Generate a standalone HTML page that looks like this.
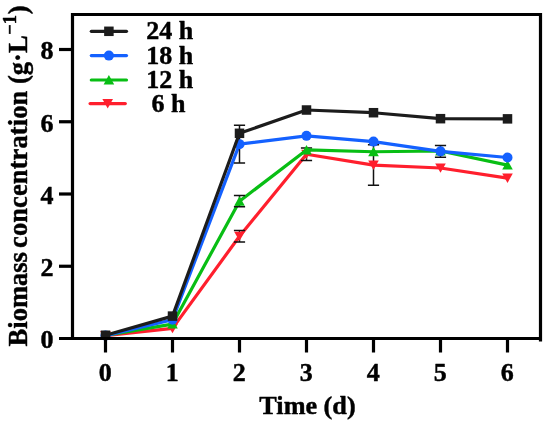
<!DOCTYPE html>
<html><head><meta charset="utf-8"><title>Biomass concentration</title>
<style>
html,body{margin:0;padding:0;background:#fff;}
svg{display:block}
text{font-family:"Liberation Serif","DejaVu Serif",serif;font-weight:bold;fill:#000;stroke:#000;stroke-width:0.45px;stroke-linejoin:round}
</style></head><body>
<svg width="550" height="428" viewBox="0 0 550 428">
<rect width="550" height="428" fill="#fff"/>

<polyline points="105.50,335.61 172.50,328.38 239.50,236.27 306.50,154.26 373.50,165.10 440.50,167.99 507.50,178.10" fill="none" stroke="#ff1f2d" stroke-width="3.2" stroke-linejoin="round" stroke-linecap="round"/>
<path d="M239.50,230.49V242.05M233.90,230.49h11.2M233.90,242.05h11.2" stroke="#111" stroke-width="1.5" fill="none"/>
<path d="M306.50,148.12V160.40M300.90,148.12h11.2M300.90,160.40h11.2" stroke="#111" stroke-width="1.5" fill="none"/>
<path d="M373.50,144.87V185.33M367.90,144.87h11.2M367.90,185.33h11.2" stroke="#111" stroke-width="1.5" fill="none"/>
<polygon points="105.50,340.41 110.80,331.11 100.20,331.11" fill="#ff1f2d"/>
<polygon points="172.50,333.19 177.80,323.88 167.20,323.88" fill="#ff1f2d"/>
<polygon points="239.50,241.07 244.80,231.77 234.20,231.77" fill="#ff1f2d"/>
<polygon points="306.50,159.06 311.80,149.76 301.20,149.76" fill="#ff1f2d"/>
<polygon points="373.50,169.90 378.80,160.60 368.20,160.60" fill="#ff1f2d"/>
<polygon points="440.50,172.79 445.80,163.49 435.20,163.49" fill="#ff1f2d"/>
<polygon points="507.50,182.91 512.80,173.60 502.20,173.60" fill="#ff1f2d"/>
<polyline points="105.50,335.43 172.50,324.05 239.50,201.22 306.50,149.93 373.50,151.73 440.50,151.01 507.50,165.10" fill="none" stroke="#08be14" stroke-width="3.2" stroke-linejoin="round" stroke-linecap="round"/>
<path d="M239.50,195.59V206.86M233.90,195.59h11.2M233.90,206.86h11.2" stroke="#111" stroke-width="1.5" fill="none"/>
<polygon points="105.50,330.53 110.80,339.93 100.20,339.93" fill="#08be14"/>
<polygon points="172.50,319.15 177.80,328.55 167.20,328.55" fill="#08be14"/>
<polygon points="239.50,196.32 244.80,205.72 234.20,205.72" fill="#08be14"/>
<polygon points="306.50,145.03 311.80,154.43 301.20,154.43" fill="#08be14"/>
<polygon points="373.50,146.83 378.80,156.23 368.20,156.23" fill="#08be14"/>
<polygon points="440.50,146.11 445.80,155.51 435.20,155.51" fill="#08be14"/>
<polygon points="507.50,160.20 512.80,169.60 502.20,169.60" fill="#08be14"/>
<polyline points="105.50,335.61 172.50,319.71 239.50,144.15 306.50,135.84 373.50,141.62 440.50,151.37 507.50,157.51" fill="none" stroke="#1461ff" stroke-width="3.2" stroke-linejoin="round" stroke-linecap="round"/>
<path d="M239.50,125.18V163.11M233.90,125.18h11.2M233.90,163.11h11.2" stroke="#111" stroke-width="1.5" fill="none"/>
<path d="M440.50,145.59V157.15M434.90,145.59h11.2M434.90,157.15h11.2" stroke="#111" stroke-width="1.5" fill="none"/>
<circle cx="105.50" cy="335.61" r="5" fill="#1461ff"/>
<circle cx="172.50" cy="319.71" r="5" fill="#1461ff"/>
<circle cx="239.50" cy="144.15" r="5" fill="#1461ff"/>
<circle cx="306.50" cy="135.84" r="5" fill="#1461ff"/>
<circle cx="373.50" cy="141.62" r="5" fill="#1461ff"/>
<circle cx="440.50" cy="151.37" r="5" fill="#1461ff"/>
<circle cx="507.50" cy="157.51" r="5" fill="#1461ff"/>
<polyline points="105.50,335.25 172.50,316.10 239.50,133.31 306.50,110.01 373.50,112.72 440.50,118.68 507.50,118.86" fill="none" stroke="#1c1c1c" stroke-width="3.2" stroke-linejoin="round" stroke-linecap="round"/>
<rect x="100.75" y="330.50" width="9.5" height="9.5" fill="#1c1c1c"/>
<rect x="167.75" y="311.35" width="9.5" height="9.5" fill="#1c1c1c"/>
<rect x="234.75" y="128.56" width="9.5" height="9.5" fill="#1c1c1c"/>
<rect x="301.75" y="105.26" width="9.5" height="9.5" fill="#1c1c1c"/>
<rect x="368.75" y="107.97" width="9.5" height="9.5" fill="#1c1c1c"/>
<rect x="435.75" y="113.93" width="9.5" height="9.5" fill="#1c1c1c"/>
<rect x="502.75" y="114.11" width="9.5" height="9.5" fill="#1c1c1c"/>
<path d="M72.5,340V14.5H540.5V341.5" fill="none" stroke="#000" stroke-width="3.2"/>
<path d="M59,338.5H540.5" fill="none" stroke="#000" stroke-width="3.2"/>
<path d="M59,266.25H72.5" stroke="#000" stroke-width="3.2"/>
<path d="M59,194.00H72.5" stroke="#000" stroke-width="3.2"/>
<path d="M59,121.75H72.5" stroke="#000" stroke-width="3.2"/>
<path d="M59,49.50H72.5" stroke="#000" stroke-width="3.2"/>
<path d="M105.50,338.5V352.5" stroke="#000" stroke-width="3.2"/>
<path d="M172.50,338.5V352.5" stroke="#000" stroke-width="3.2"/>
<path d="M239.50,338.5V352.5" stroke="#000" stroke-width="3.2"/>
<path d="M306.50,338.5V352.5" stroke="#000" stroke-width="3.2"/>
<path d="M373.50,338.5V352.5" stroke="#000" stroke-width="3.2"/>
<path d="M440.50,338.5V352.5" stroke="#000" stroke-width="3.2"/>
<path d="M507.50,338.5V352.5" stroke="#000" stroke-width="3.2"/>
<text x="53.5" y="348.30" font-size="26" text-anchor="end">0</text>
<text x="53.5" y="276.05" font-size="26" text-anchor="end">2</text>
<text x="53.5" y="203.80" font-size="26" text-anchor="end">4</text>
<text x="53.5" y="131.55" font-size="26" text-anchor="end">6</text>
<text x="53.5" y="59.30" font-size="26" text-anchor="end">8</text>
<text x="105.30" y="380.7" font-size="26" text-anchor="middle">0</text>
<text x="172.30" y="380.7" font-size="26" text-anchor="middle">1</text>
<text x="239.30" y="380.7" font-size="26" text-anchor="middle">2</text>
<text x="306.30" y="380.7" font-size="26" text-anchor="middle">3</text>
<text x="373.30" y="380.7" font-size="26" text-anchor="middle">4</text>
<text x="440.30" y="380.7" font-size="26" text-anchor="middle">5</text>
<text x="507.30" y="380.7" font-size="26" text-anchor="middle">6</text>
<text x="307.5" y="413.8" font-size="26.2" text-anchor="middle">Time (d)</text>
<text transform="translate(26.8,346.4) rotate(-90)" font-size="26.5" text-anchor="start">Biomass<tspan dx="-2.5" letter-spacing="0.1"> concentration</tspan> (g·L<tspan font-size="18.5" dx="0.5" dy="-11.2">−1</tspan><tspan dx="0.8" dy="11.2">)</tspan></text>
<path d="M91.3,31.3H126.5" stroke="#1c1c1c" stroke-width="3.2" stroke-linecap="round"/>
<rect x="104.15" y="26.55" width="9.5" height="9.5" fill="#1c1c1c"/>
<text x="169.7" y="39.30" font-size="26" text-anchor="middle">24 h</text>
<path d="M91.3,55.6H126.5" stroke="#1461ff" stroke-width="3.2" stroke-linecap="round"/>
<circle cx="108.90" cy="55.60" r="5" fill="#1461ff"/>
<text x="169.7" y="63.50" font-size="26" text-anchor="middle">18 h</text>
<path d="M91.3,80.0H126.5" stroke="#08be14" stroke-width="3.2" stroke-linecap="round"/>
<polygon points="108.90,75.10 114.20,84.50 103.60,84.50" fill="#08be14"/>
<text x="169.7" y="87.80" font-size="26" text-anchor="middle">12 h</text>
<path d="M90.1,103.6H125.3" stroke="#ff1f2d" stroke-width="3.2" stroke-linecap="round"/>
<polygon points="107.70,108.40 113.00,99.10 102.40,99.10" fill="#ff1f2d"/>
<text x="168.4" y="111.50" font-size="26" text-anchor="middle">6 h</text>
</svg>
</body></html>
